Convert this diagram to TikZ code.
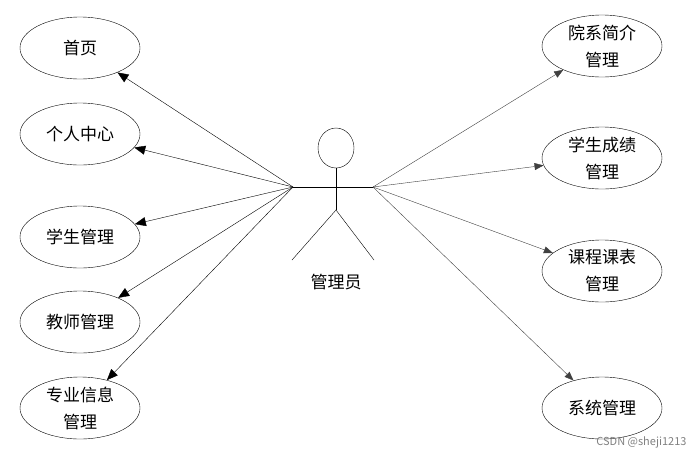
\documentclass[tikz,border=0pt]{standalone}
\usepackage{fontspec}
\setmainfont{Noto Sans CJK SC}
\usetikzlibrary{arrows.meta,shapes.geometric}
\begin{document}
\begin{tikzpicture}[x=1pt,y=-1pt,
  uc/.style={draw,ellipse,minimum width=120pt,minimum height=62pt,align=center,font=\fontsize{17}{27}\selectfont,inner sep=0pt},
  la/.style={-{Triangle[length=11pt,width=9pt]},black},
  ra/.style={-{Triangle[length=9pt,width=7pt]},black!75}]
\useasboundingbox (0,0) rectangle (692,456);
\node[uc] (a1) at (80,48) {首页};
\node[uc] (a2) at (80,134) {个人中心};
\node[uc] (a3) at (80,237) {学生管理};
\node[uc] (a4) at (80,322) {教师管理};
\node[uc] (a5) at (80,408) {专业信息\\管理};
\node[uc] (b1) at (602,46) {院系简介\\管理};
\node[uc] (b2) at (602,158) {学生成绩\\管理};
\node[uc] (b3) at (602,271) {课程课表\\管理};
\node[uc] (b4) at (602,408) {系统管理};
\draw (336,148) ellipse (18 and 20);
\draw (336,168) -- (336,210);
\coordinate (L) at (293,187);
\coordinate (R) at (373,187);
\draw (L) -- (R);
\draw (292,260) -- (336,210) -- (374,260);
\node[font=\fontsize{17}{20}\selectfont] (act) at (336,282) {管理员};
\foreach \n in {a1,a2,a3,a4,a5} \draw[la] (L) -- (\n);
\foreach \n in {b1,b2,b3,b4} \draw[ra] (R) -- (\n);
\node[font=\fontsize{11}{12}\selectfont,text=gray,anchor=south east] (wm) at (690,452) {CSDN @sheji1213};
\end{tikzpicture}
\end{document}
